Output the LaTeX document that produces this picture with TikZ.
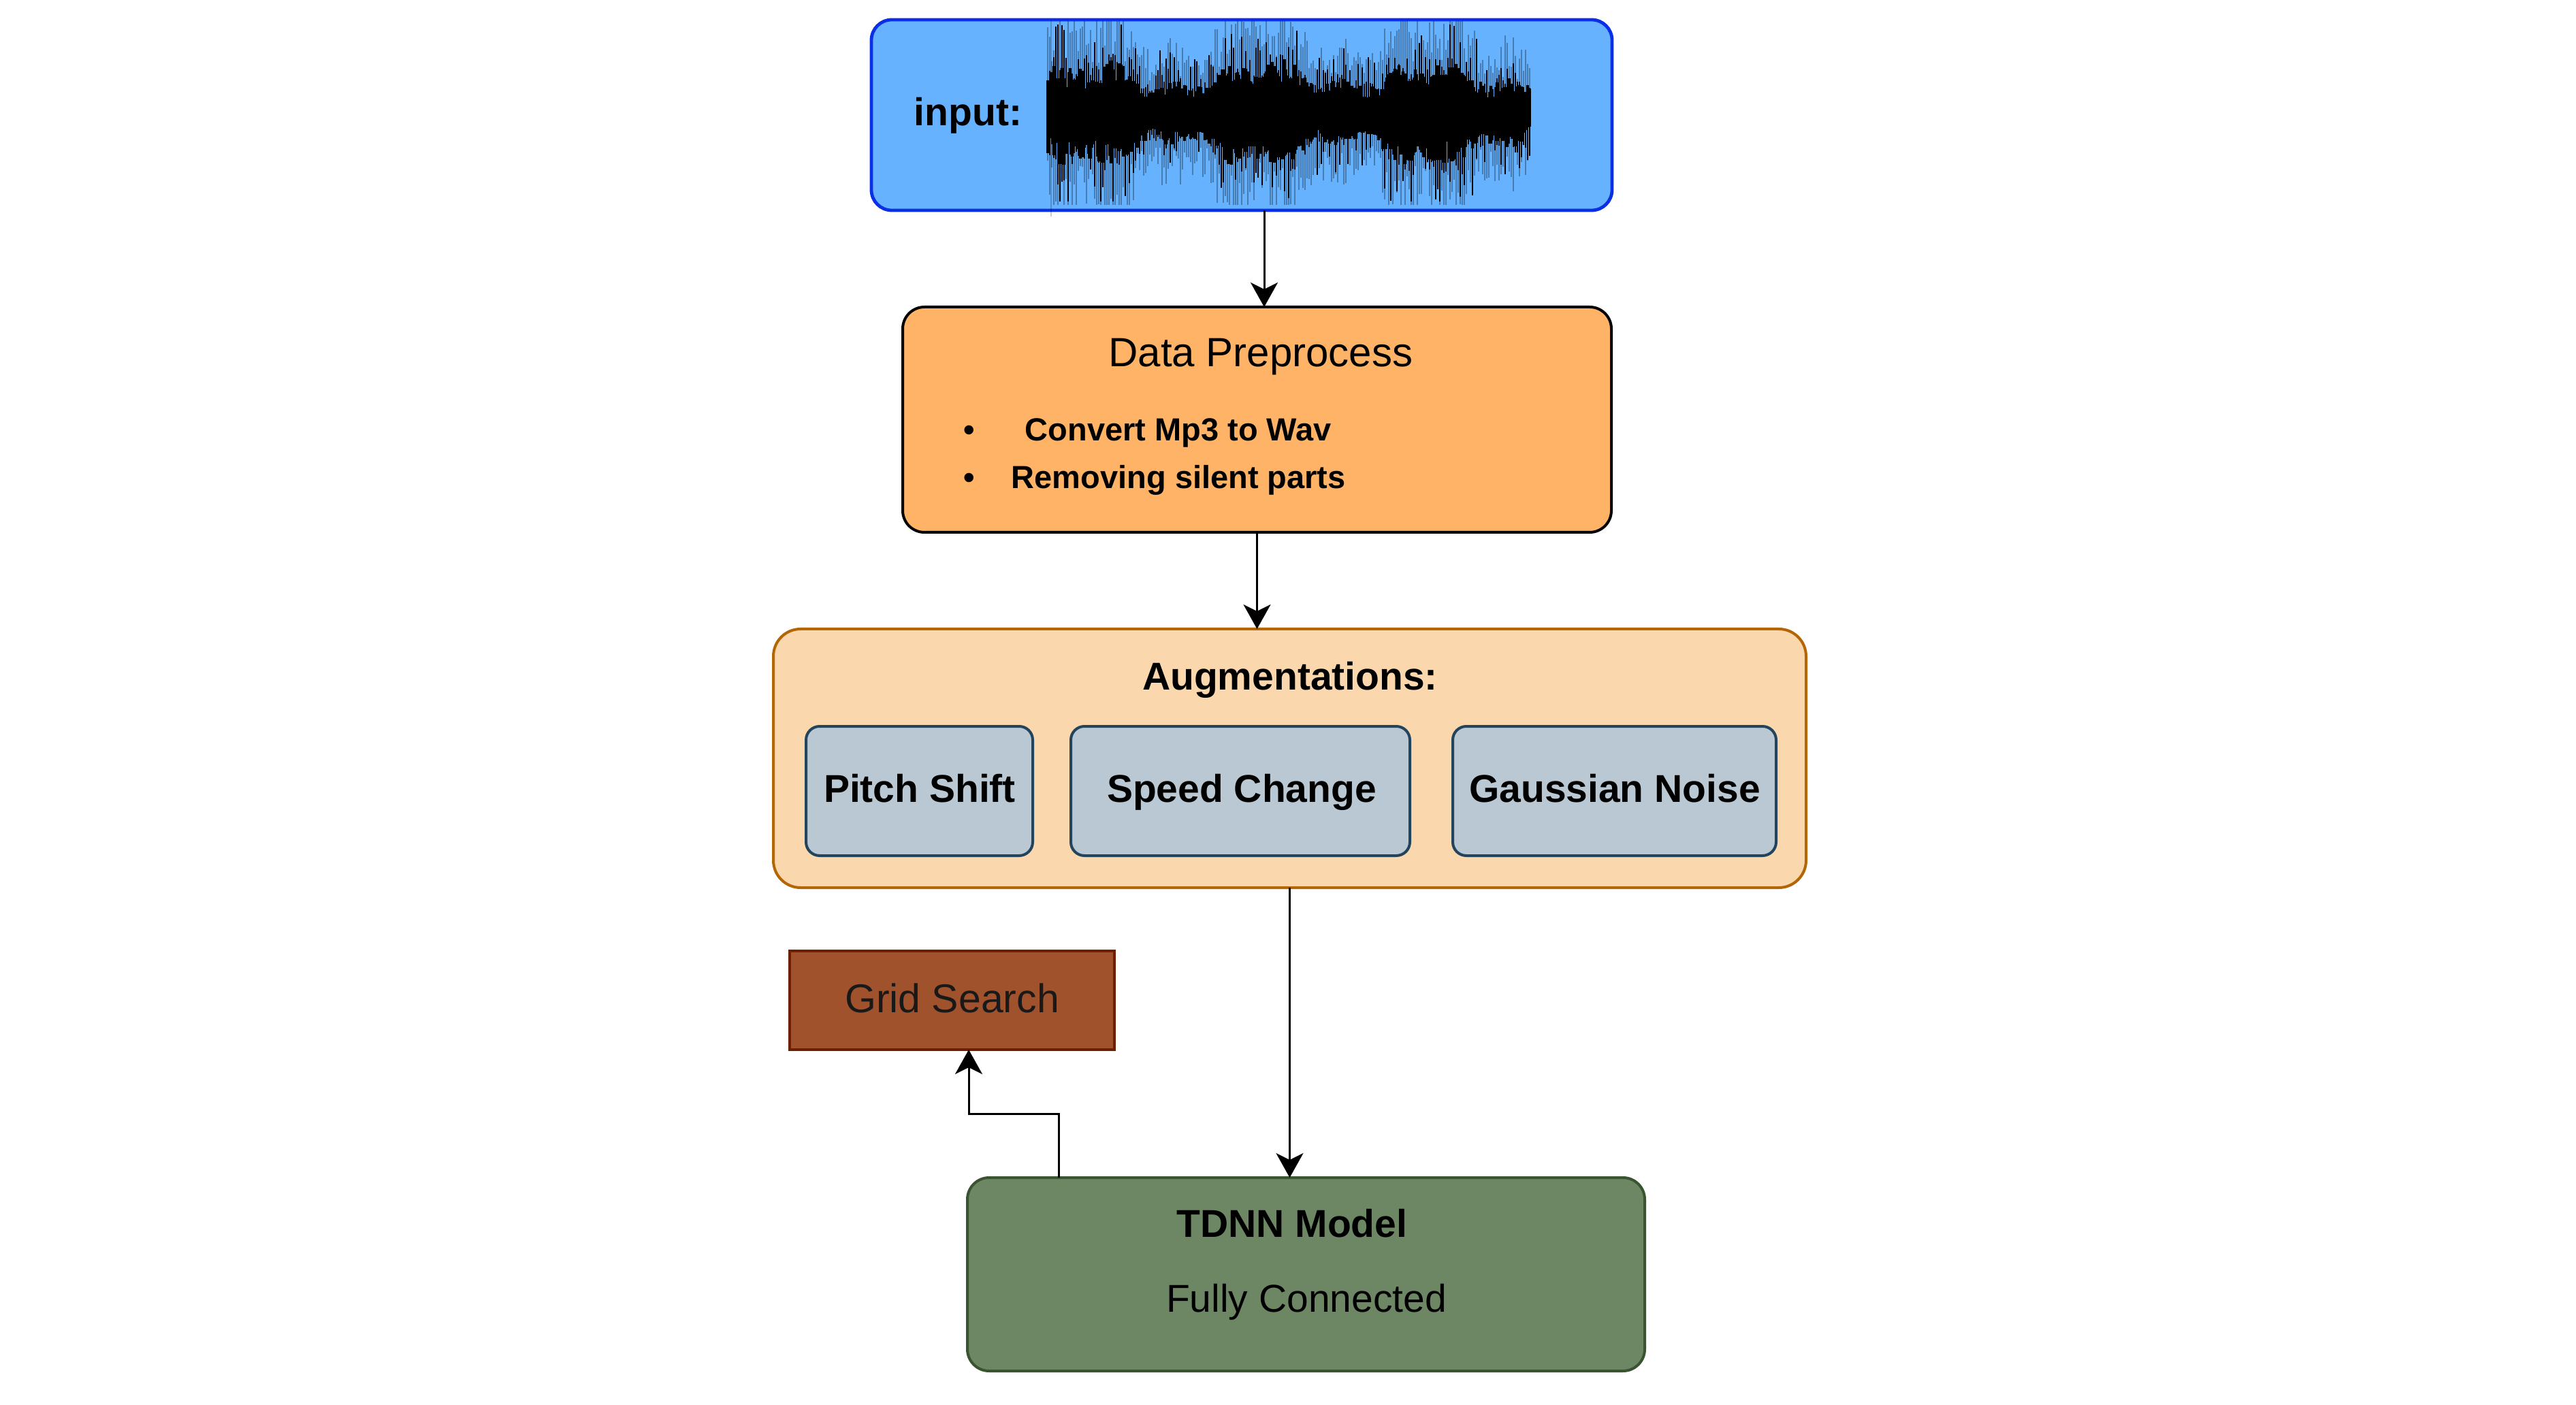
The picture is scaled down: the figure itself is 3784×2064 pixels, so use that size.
\documentclass[tikz,border=0pt]{standalone}
\usepackage{fontspec}
\setmainfont{Liberation Sans}
\usetikzlibrary{arrows.meta}
\definecolor{inputfill}{HTML}{66B2FF}
\definecolor{inputdraw}{HTML}{0A2FE6}
\definecolor{prepfill}{HTML}{FFB366}
\definecolor{augfill}{HTML}{FAD7AC}
\definecolor{augdraw}{HTML}{B46504}
\definecolor{subfill}{HTML}{BAC8D3}
\definecolor{subdraw}{HTML}{23445D}
\definecolor{gridfill}{HTML}{A0522D}
\definecolor{griddraw}{HTML}{6D1F00}
\definecolor{tdnnfill}{HTML}{6D8764}
\definecolor{tdnndraw}{HTML}{3A5431}
\newcommand\pxsize[1]{\fontsize{#1}{#1}\selectfont}
\begin{document}
\begin{tikzpicture}[x=0.25pt,y=-0.25pt,
  box/.style={draw, line width=1pt, inner sep=0pt, outer sep=0pt},
  inputbox/.style={box, fill=inputfill, draw=inputdraw, line width=1.2pt, rounded corners=7.5pt, minimum width=272pt, minimum height=70pt},
  prepbox/.style={box, fill=prepfill, draw=black, rounded corners=8pt, minimum width=260.25pt, minimum height=82.75pt},
  augbox/.style={box, fill=augfill, draw=augdraw, rounded corners=10pt, minimum width=379.25pt, minimum height=95pt},
  subbox/.style={box, fill=subfill, draw=subdraw, rounded corners=5pt, minimum height=47.5pt},
  gridbox/.style={box, fill=gridfill, draw=griddraw, minimum width=119.25pt, minimum height=36.25pt},
  tdnnbox/.style={box, fill=tdnnfill, draw=tdnndraw, rounded corners=8pt, minimum width=248.75pt, minimum height=71pt},
  lbl/.style={inner sep=0pt, anchor=base, text=black},
  boldlbl/.style={lbl, font=\bfseries\pxsize{14.25pt}},
  arr/.style={draw=black, line width=0.75pt, -{Stealth[length=9pt, width=10pt, inset=2.5pt]}}
]
\useasboundingbox (0,0) rectangle (3784,2064);

% input box with waveform
\node[inputbox] (input) at (1824,169) {};
\pgfmathsetseed{7}
\draw[black, opacity=0.2, line width=0.5pt] (1544,30) -- (1544,318);
\foreach \i in {0,...,236}{
  \pgfmathsetmacro\xx{1539+3*\i}
  \pgfmathsetmacro\en{1+0.28*sin(\i*4.3)+0.15*sin(\i*13.1)}
  \pgfmathsetmacro\ua{min(135,\en*(60+75*rnd))}
  \pgfmathsetmacro\da{min(135,\en*(60+75*rnd))}
  \draw[black, opacity=0.3, line width=0.4pt] (\xx,{166-\ua}) -- (\xx,{166+\da});
  \pgfmathsetmacro\um{min(130,\en*(40+90*rnd*rnd))}
  \pgfmathsetmacro\dm{min(130,\en*(40+90*rnd*rnd))}
  \draw[black, line width=0.5pt] (\xx,{166-\um}) -- (\xx,{166+\dm});
  \pgfmathsetmacro\ub{\en*(28+32*rnd)}
  \pgfmathsetmacro\db{\en*(28+32*rnd)}
  \draw[black, line width=0.8pt] (\xx,{166-\ub}) -- (\xx,{166+\db});
}
\node[boldlbl] (inputlbl) at (1422,185) {input:};

% data preprocess
\node[prepbox] (prep) at (1846.5,616.5) {};
\node[lbl, font=\pxsize{15pt}] (preptitle) at (1852,539) {Data Preprocess};
\node[lbl, font=\bfseries\pxsize{11.75pt}] (bul1) at (1424,648) {•};
\node[lbl, font=\bfseries\pxsize{11.75pt}] (bul2) at (1424,718) {•};
\node[lbl, anchor=base west, font=\bfseries\pxsize{11.75pt}] (item1) at (1505,648) {Convert Mp3 to Wav};
\node[lbl, anchor=base west, font=\bfseries\pxsize{11.75pt}] (item2) at (1485,718) {Removing silent parts};

% augmentations
\node[augbox] (aug) at (1894.5,1114) {};
\node[boldlbl] (augtitle) at (1895,1013) {Augmentations:};
\node[subbox, minimum width=83.25pt] (pitch) at (1350.5,1162) {};
\node[subbox, minimum width=124.5pt] (speed) at (1822,1162) {};
\node[subbox, minimum width=118.75pt] (gauss) at (2371.5,1162) {};
\node[boldlbl] (pitchlbl) at (1351,1178) {Pitch Shift};
\node[boldlbl] (speedlbl) at (1824,1178) {Speed Change};
\node[boldlbl] (gausslbl) at (2372,1178) {Gaussian Noise};

% grid search
\node[gridbox] (grid) at (1398.5,1469.5) {};
\node[lbl, font=\pxsize{14.75pt}, text=black!90] (gridlbl) at (1398.5,1487) {Grid Search};

% TDNN
\node[tdnnbox] (tdnn) at (1918.5,1872) {};
\node[boldlbl] (tdnnlbl) at (1898,1817) {TDNN Model};
\node[lbl, font=\pxsize{14.25pt}] (fclbl) at (1919,1927) {Fully Connected};

% connectors
\coordinate (a1) at (1857,0);
\draw[arr] (input.south -| a1) -- (prep.north -| a1);
\draw[arr] (prep.south) -- (prep.south |- aug.north);
\draw[arr] (aug.south) -- (aug.south |- tdnn.north);
\coordinate (e1) at (1555,1636);
\coordinate (e2) at (1423,1636);
\draw[arr] (tdnn.north -| e1) -- (e1) -- (e2) -- (e2 |- grid.south);
\end{tikzpicture}
\end{document}
